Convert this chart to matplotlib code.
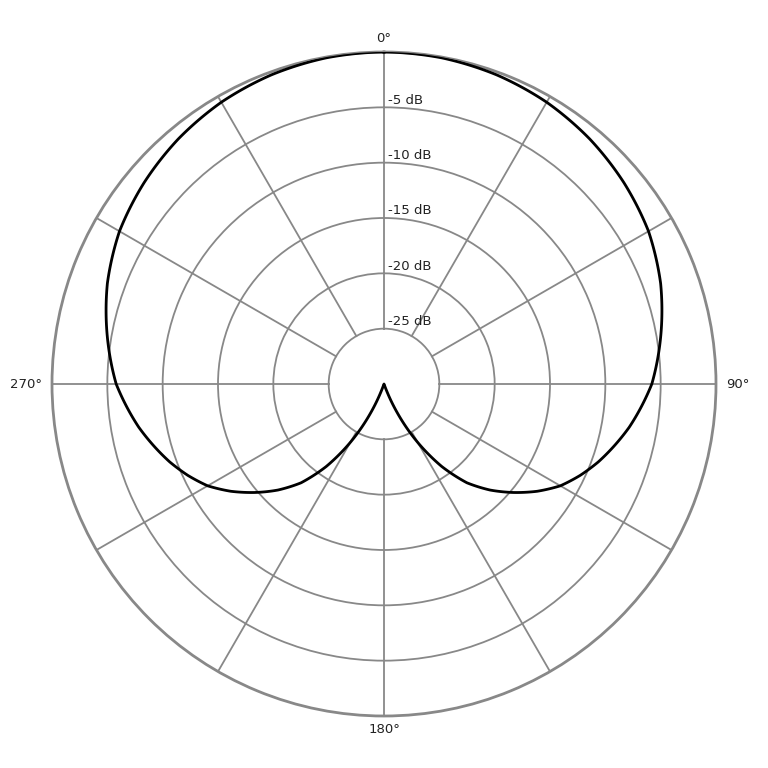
import numpy as np
import matplotlib
matplotlib.use("Agg")
import matplotlib.pyplot as plt

# Response (dB) at angles 0..180 deg (pattern is symmetric)
angles_half = [0, 10, 20, 30, 40, 50, 60, 70, 80, 90, 100, 110, 115, 120, 125, 130,
               135, 140, 145, 150, 155, 160, 170, 180]
db_half = [0.0, -0.07, -0.27, -0.6, -1.09, -1.7, -2.4, -3.4, -4.6, -5.8,
           -7.5, -9.4, -10.45, -11.6, -13.1, -14.75, -16.45, -18.35, -20.9,
           -23.9, -27.0, -30.0, -30.0, -30.0]

ring_values = [-25, -20, -15, -10, -5]
ring_labels = ["-25 dB", "-20 dB", "-15 dB", "-10 dB", "-5 dB"]
theta_ticks = [0, 30, 60, 90, 120, 150, 180, 210, 240, 270, 300, 330]
angle_label_pos = [0, 90, 180, 270]
angle_labels = ["0°", "90°", "180°", "270°"]
r_min, r_max = -30, 0

angles = angles_half + [360 - a for a in angles_half[-2::-1]]
db = db_half + db_half[-2::-1]

fig = plt.figure(figsize=(7.68, 7.68), dpi=100)
ax = fig.add_axes([52 / 768, 52 / 768, 664 / 768, 664 / 768], projection="polar")
ax.set_theta_zero_location("N")
ax.set_theta_direction(-1)
ax.set_ylim(r_min, r_max)

grid_color = "#888888"
ax.set_thetagrids(theta_ticks, [""] * len(theta_ticks))
ax.xaxis.grid(False)
ax.set_yticks(ring_values)
ax.set_yticklabels([])
ax.yaxis.grid(True, color=grid_color, linewidth=1.3)
ax.spines["polar"].set_color(grid_color)
ax.spines["polar"].set_linewidth(2)

for t in theta_ticks:
    ax.plot([np.deg2rad(t)] * 2, [ring_values[0], r_max], color=grid_color,
            linewidth=1.3, zorder=1)

for v, lab in zip(ring_values, ring_labels):
    ax.annotate(lab, xy=(0, v), xytext=(3, 0.5), textcoords="offset points",
                ha="left", va="bottom", fontsize=9.5, color="#222222")

align = {0: ((0, 5), "center", "bottom"), 90: ((7, 0), "left", "center"),
         180: ((0, -5), "center", "top"), 270: ((-7, 0), "right", "center")}
for a, lab in zip(angle_label_pos, angle_labels):
    off, ha, va = align[a]
    ax.annotate(lab, xy=(np.deg2rad(a), r_max), xytext=off, textcoords="offset points",
                ha=ha, va=va, fontsize=9.5, color="#222222", annotation_clip=False)

line, = ax.plot(np.deg2rad(angles), db, color="black", linewidth=2.0, zorder=3)
line.get_path()._interpolation_steps = 30

fig.savefig("out.png", dpi=100, facecolor="white")
